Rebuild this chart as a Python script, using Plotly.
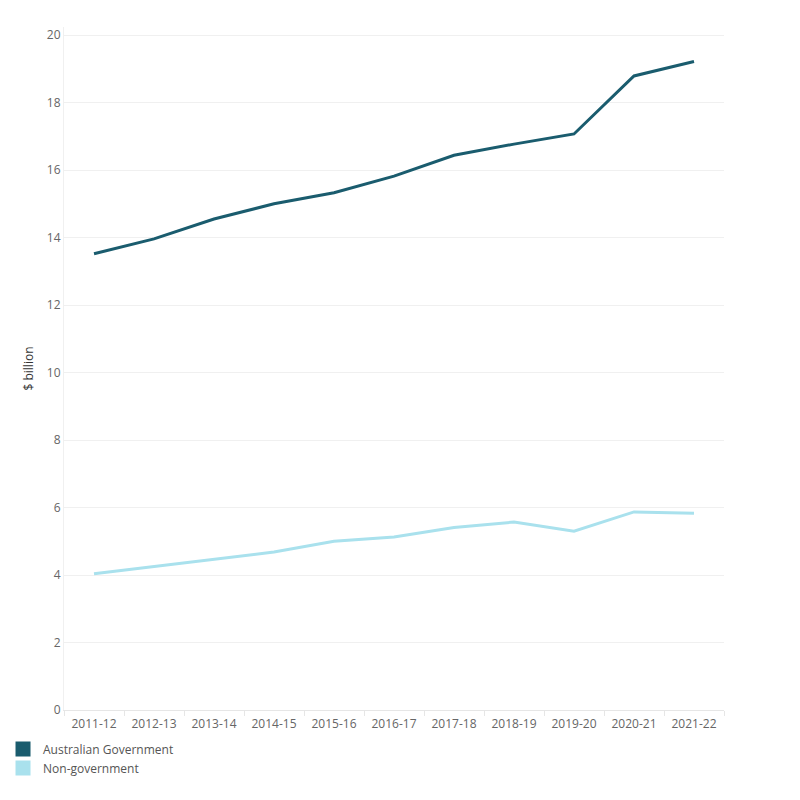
import plotly.graph_objects as go

years = ["2011-12", "2012-13", "2013-14", "2014-15", "2015-16", "2016-17",
         "2017-18", "2018-19", "2019-20", "2020-21", "2021-22"]
aus_gov = [13.52, 13.96, 14.55, 15.0, 15.33, 15.82, 16.44, 16.77, 17.07, 18.79, 19.22]
non_gov = [4.04, 4.25, 4.48, 4.68, 5.0, 5.13, 5.41, 5.57, 5.3, 5.87, 5.83]
y_ticks = [0, 2, 4, 6, 8, 10, 12, 14, 16, 18, 20]

series = [
    ("Australian Government", aus_gov, "#1a5c6e"),
    ("Non-government", non_gov, "#a9e1ed"),
]

fig = go.Figure()

for name, vals, color in series:
    fig.add_trace(go.Scatter(
        x=years, y=vals, mode="lines", name=name,
        line=dict(color=color, width=3),
        showlegend=False,
    ))
    # square swatch for the legend
    fig.add_trace(go.Scatter(
        x=[None], y=[None], mode="markers", name=name,
        marker=dict(symbol="square", size=15, color=color),
    ))

# y axis title as an annotation (axis title misplaces with fixed margins)
fig.add_annotation(
    text="$ billion", textangle=-90,
    xref="paper", yref="paper", x=-0.0545, y=0.5,
    xanchor="center", yanchor="middle", showarrow=False,
    font=dict(size=12, color="#333"),
)

fig.update_layout(
    width=800, height=800,
    margin=dict(l=56, r=84, t=19, b=97.5, autoexpand=False),
    plot_bgcolor="white", paper_bgcolor="white",
    font=dict(family="Open Sans", size=12, color="#666"),
    legend=dict(
        xref="paper", yref="paper",
        x=-0.0924, y=-0.0358, xanchor="left", yanchor="top",
        font=dict(size=12, color="#555"),
        itemwidth=30, tracegroupgap=0,
        bgcolor="rgba(0,0,0,0)",
    ),
    xaxis=dict(
        type="category", showgrid=False, range=[-0.5, len(years) - 0.5],
        ticks="outside", tickson="boundaries", ticklen=5, tickangle=0,
        tickcolor="#e6e6e6", showline=True, linecolor="#e6e6e6",
        ticklabelstandoff=3,
        tickfont=dict(size=12, color="#666"),
    ),
    yaxis=dict(
        range=[0, 20.24], tickvals=y_ticks,
        showgrid=True, gridcolor="#f0f0f0", zeroline=False,
        showline=True, linecolor="#f0f0f0",
        ticks="", tickfont=dict(size=12, color="#666"),
    ),
)

fig.write_html("out.html")
